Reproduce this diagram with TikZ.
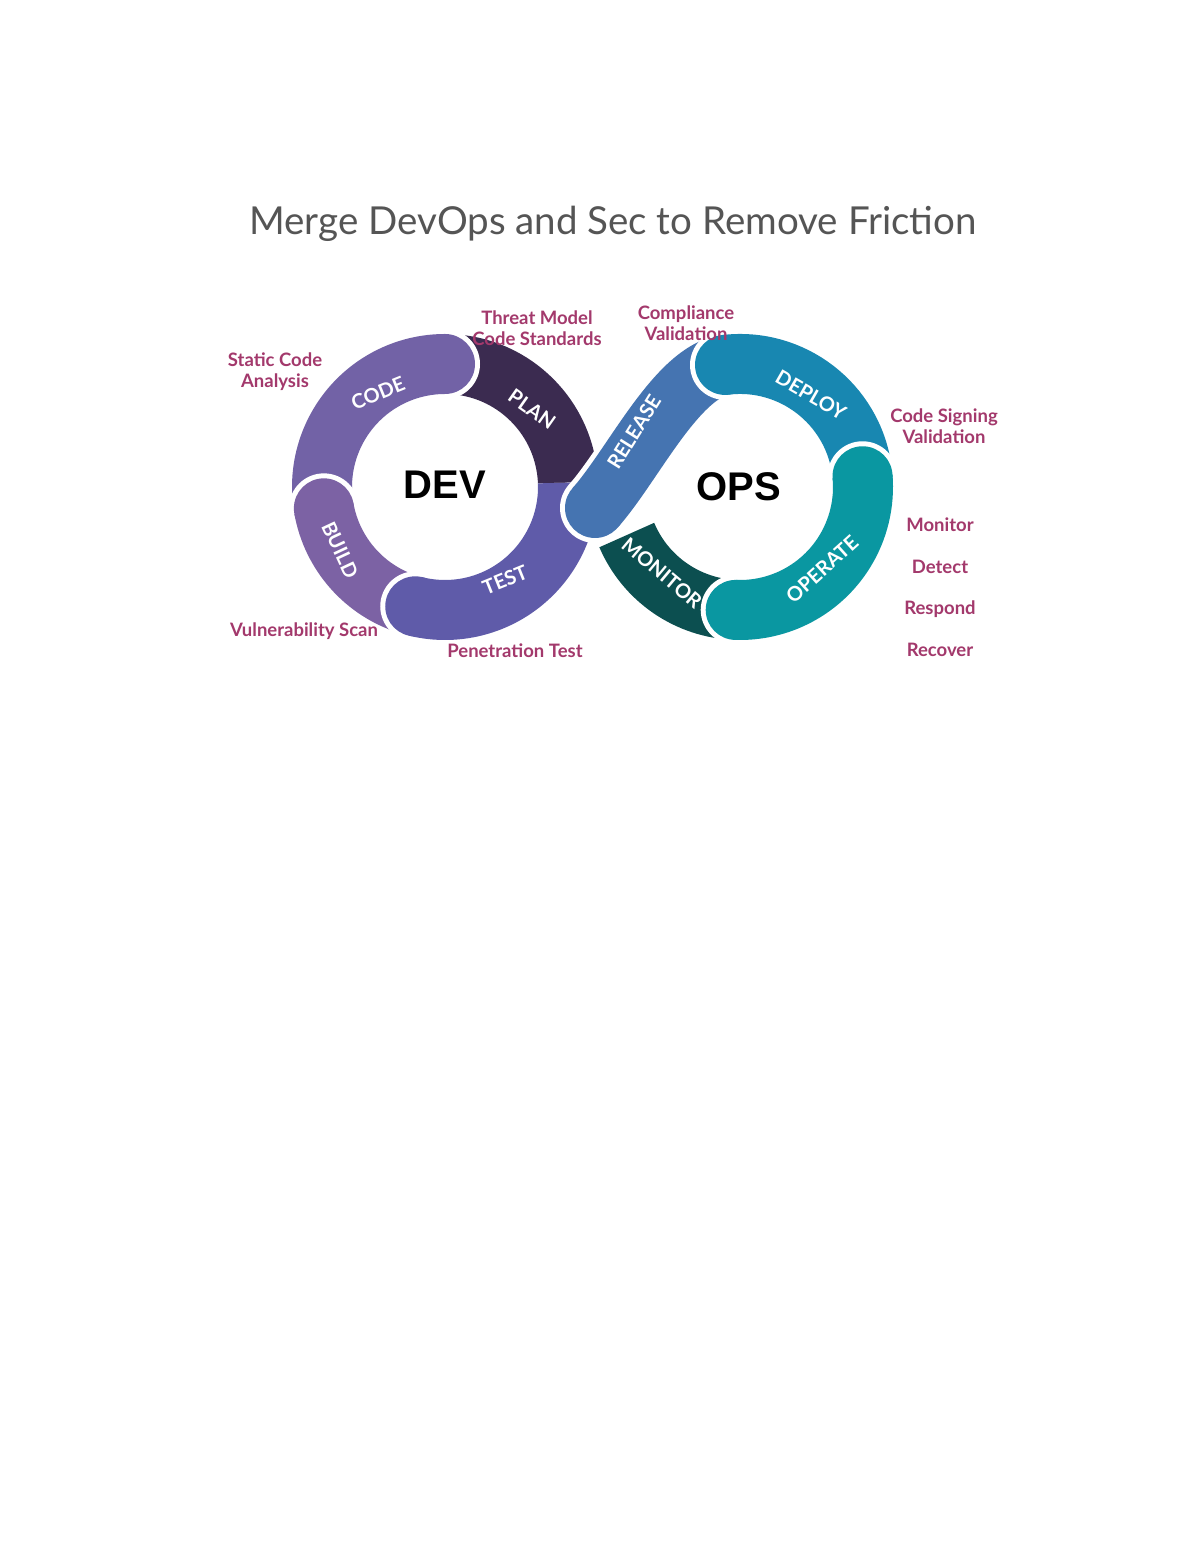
\documentclass[tikz,border=0pt]{standalone}
\usepackage{fontspec}
\setmainfont{Lato}
\newfontfamily\arialb{Liberation Sans}
\definecolor{cCode}{HTML}{7262A6}
\definecolor{cPlan}{HTML}{3B2B50}
\definecolor{cBuild}{HTML}{7C62A4}
\definecolor{cTest}{HTML}{5F5BA9}
\definecolor{cRel}{HTML}{4574B1}
\definecolor{cDep}{HTML}{1887B1}
\definecolor{cOpe}{HTML}{0A97A1}
\definecolor{cMon}{HTML}{0C4F50}
\definecolor{cLab}{HTML}{A3396C}
\tikzset{
  bord/.style={white,line width=70pt},
  band/.style={line width=60pt},
  seglab/.style={white,font=\bfseries\fontsize{20}{20}\selectfont},
  sidelab/.style={cLab,font=\bfseries\fontsize{18.5}{21}\selectfont,align=center}
}
% #1 color, #2 center, #3 start, #4 end, #5 round start (1/0), #6 round end
\newcommand\Arc[6]{%
  \draw[bord] (#2) ++(#3:123) arc[start angle=#3,end angle=#4,radius=123];
  \ifnum#5=1 \fill[white] (#2) ++(#3:123) circle(35);\fi
  \ifnum#6=1 \fill[white] (#2) ++(#4:123) circle(35);\fi
  \draw[band,#1] (#2) ++(#3:123) arc[start angle=#3,end angle=#4,radius=123];
  \ifnum#5=1 \fill[#1] (#2) ++(#3:123) circle(30);\fi
  \ifnum#6=1 \fill[#1] (#2) ++(#4:123) circle(30);\fi
}
\begin{document}
\begin{tikzpicture}[x=1pt,y=1pt]
\useasboundingbox (0,0) rectangle (1200,1553);
\fill[white] (0,0) rectangle (1200,1553);
\coordinate (D) at (445,1066);
\coordinate (O) at (740,1066);
\node (title) at (613,1329) {\color[HTML]{555555}\fontsize{38.5}{38}\selectfont Merge DevOps and Sec to Remove Friction};
% segments
\Arc{cPlan}{D}{88}{2}{0}{0}
\Arc{cMon}{O}{203}{268}{0}{0}
\Arc{cCode}{D}{185}{90}{0}{1}
\Arc{cBuild}{D}{190}{253}{1}{0}
\Arc{cTest}{D}{256}{362}{1}{0}
% release S-curve
\draw[bord] (595,1045) .. controls (635,1090) and (680,1189) .. (732,1189);
\fill[white] (595,1045) circle(35);
\draw[band,cRel] (595,1045) .. controls (635,1090) and (680,1189) .. (732,1189);
\fill[cRel] (595,1045) circle(30);
\Arc{cDep}{O}{97}{8}{1}{0}
\Arc{cOpe}{O}{268}{365}{1}{1}
% segment labels
\node[seglab,rotate=22] (lcode) at (378,1160) {CODE};
\node[seglab,rotate=-35] (lplan) at (532,1144) {PLAN};
\node[seglab,rotate=-65] (lbuild) at (340,1003) {BUILD};
\node[seglab,rotate=22] (ltest) at (505,973) {TEST};
\node[seglab,rotate=58] (lrel) at (634,1121) {RELEASE};
\node[seglab,rotate=-30] (ldep) at (811,1158) {DEPLOY};
\node[seglab,rotate=42] (lope) at (822,984) {OPERATE};
\node[seglab,rotate=-40] (lmon) at (662,980) {MONITOR};
\node (dev) at (445,1068) {\arialb\bfseries\fontsize{40}{40}\selectfont DEV};
\node (ops) at (739,1066) {\arialb\bfseries\fontsize{40}{40}\selectfont OPS};
% side labels
\node[sidelab] (s1) at (537,1225) {Threat Model\\Code Standards};
\node[sidelab] (s2) at (686,1230) {Compliance\\Validation};
\node[sidelab] (s3) at (275,1181) {Static Code\\Analysis};
\node[sidelab] (s4) at (944,1127) {Code Signing\\Validation};
\node[sidelab] (s5) at (940,1028) {Monitor};
\node[sidelab] (s6) at (940,986) {Detect};
\node[sidelab] (s7) at (940,944) {Respond};
\node[sidelab] (s8) at (940,903) {Recover};
\node[sidelab] (s9) at (304,922) {Vulnerability Scan};
\node[sidelab] (s10) at (515,902) {Penetration Test};
\end{tikzpicture}
\end{document}
